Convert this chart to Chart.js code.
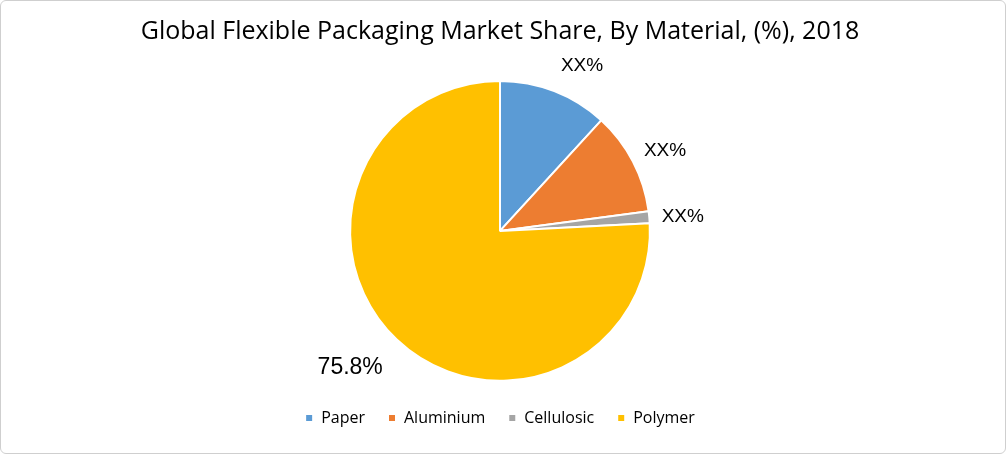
<!DOCTYPE html>
<html>
<head>
<meta charset="utf-8">
<script src="https://cdn.jsdelivr.net/npm/chart.js@4"></script>
<style>
  html, body { margin: 0; padding: 0; background: #fff; }
  #pieChart { position: absolute; left: 0; top: 0; }
  #frame {
    position: absolute; left: 0; top: 0;
    width: 1004px; height: 452px;
    border: 1px solid #cfcfcf; border-radius: 6px;
    pointer-events: none;
  }
</style>
</head>
<body>
<canvas id="pieChart" width="1006" height="454"></canvas>
<div id="frame"></div>
<script>
var materials = ["Paper", "Aluminium", "Cellulosic", "Polymer"];
var shares = [11.8, 11.1, 1.3, 75.8];
var shareLabels = ["XX%", "XX%", "XX%", "75.8%"];
var colors = ["#5B9BD5", "#ED7D31", "#A5A5A5", "#FFC000"];

// label placement: distance factor from centre, angle nudge (degrees), font size
var labelDist = [1.229, 1.223, 1.223, 1.354];
var labelNudge = [5.2, 1.7, 0.85, 4.0];
var labelSize = [19, 19, 19, 23];

var sliceLabels = {
  id: "sliceLabels",
  afterDatasetsDraw: function (chart) {
    var ctx = chart.ctx;
    var meta = chart.getDatasetMeta(0);
    ctx.save();
    ctx.fillStyle = "#000";
    ctx.textAlign = "center";
    ctx.textBaseline = "middle";
    meta.data.forEach(function (arc, i) {
      var mid = (arc.startAngle + arc.endAngle) / 2 + labelNudge[i] * Math.PI / 180;
      var r = arc.outerRadius * labelDist[i];
      ctx.font = labelSize[i] + "px 'Liberation Sans'";
      ctx.fillText(shareLabels[i], arc.x + Math.cos(mid) * r, arc.y + Math.sin(mid) * r);
    });
    ctx.restore();
  },
};

var ctx = document.getElementById("pieChart").getContext("2d");
var newChart = new Chart(ctx, {
  type: "pie",
  data: {
    labels: materials,
    datasets: [
      {
        data: shares,
        backgroundColor: colors,
        borderColor: "#fff",
        borderWidth: 2,
      },
    ],
  },
  options: {
    responsive: false,
    animation: false,
    layout: { padding: { top: 0, bottom: 18, right: 6 } },
    plugins: {
      title: {
        display: true,
        text: "Global Flexible Packaging Market Share, By Material, (%), 2018",
        color: "#000",
        font: { family: "'Open Sans'", size: 25, weight: "normal" },
        padding: { top: 17, bottom: 33 },
      },
      legend: {
        position: "bottom",
        // empty spacer title pushes the legend row down a little
        title: { display: true, text: " ", font: { size: 1 }, padding: 2 },
        labels: {
          color: "#000",
          font: { family: "'Open Sans'", size: 16 },
          boxWidth: 8,
          boxHeight: 8,
          padding: 23,
        },
      },
      tooltip: { enabled: false },
    },
  },
  plugins: [sliceLabels],
});
</script>
</body>
</html>
